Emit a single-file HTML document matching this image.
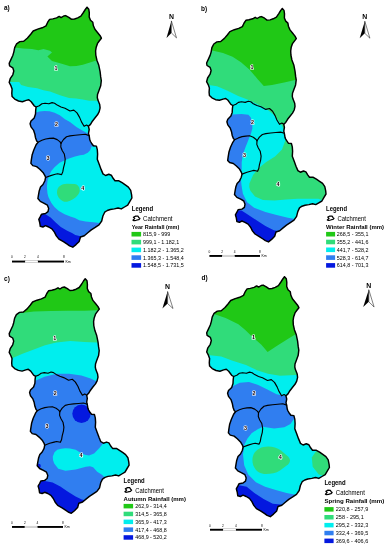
<!DOCTYPE html>
<html lang="en"><head><meta charset="utf-8"><title>Seasonal rainfall maps</title>
<style>
html,body{margin:0;padding:0;background:#fff;}
body{width:391px;height:550px;overflow:hidden;}
svg{display:block;font-family:"Liberation Sans",sans-serif;}
.b{font-weight:bold}
</style></head><body>
<svg width="391" height="550" viewBox="0 0 391 550">
<rect width="391" height="550" fill="#fff"/>

<g id="panel-a">
<clipPath id="clip-a"><path d="M87.0 7.2 L88.8 9.3 L89.3 12.8 L89.2 17.1 L90.5 20.3 L92.8 22.3 L93.3 25.5 L94.9 29.3 L97.5 32.5 L100.1 35.7 L101.4 38.2 L99.4 40.8 L97.5 43.4 L96.2 47.2 L95.6 51.0 L95.8 55.1 L96.9 60.2 L98.8 65.3 L100.1 71.7 L100.7 76.9 L101.3 80.7 L100.7 85.8 L98.8 90.9 L97.5 94.5 L97.3 97.5 L97.9 100.1 L99.7 104.6 L100.1 107.8 L99.2 111.6 L97.5 114.8 L94.9 118.0 L92.4 121.2 L90.5 124.4 L88.5 126.3 L89.2 129.5 L88.5 133.4 L89.2 135.9 L89.8 139.8 L90.5 141.5 L91.5 143.2 L93.4 145.8 L96.4 146.1 L97.3 149.6 L97.6 154.1 L97.3 159.2 L99.2 164.3 L101.1 169.4 L103.0 173.9 L105.6 175.5 L108.8 174.3 L111.3 175.2 L113.1 178.3 L115.0 180.8 L118.9 180.8 L122.1 182.7 L125.3 184.9 L128.4 187.1 L130.7 190.3 L131.6 194.8 L131.9 198.0 L129.6 201.9 L127.7 205.1 L124.5 207.0 L121.3 208.9 L118.1 208.0 L114.3 208.9 L110.3 209.5 L107.3 210.5 L104.7 212.2 L102.9 216.0 L101.7 221.0 L99.0 224.8 L95.2 227.4 L91.3 229.9 L88.1 232.5 L84.3 235.7 L80.5 237.0 L79.2 241.4 L76.0 244.6 L72.8 247.2 L69.6 245.9 L67.2 244.2 L63.4 241.7 L58.9 239.1 L56.3 235.9 L54.4 232.1 L51.9 228.9 L48.7 227.0 L45.5 225.7 L42.9 227.0 L40.3 226.3 L39.7 222.5 L38.8 219.3 L40.3 216.7 L41.6 214.2 L45.5 213.5 L48.0 211.6 L48.7 208.4 L47.4 205.2 L44.2 203.3 L40.3 201.4 L37.9 198.5 L38.5 194.8 L39.2 190.9 L40.5 187.1 L43.0 184.5 L44.9 180.7 L45.6 177.5 L44.9 175.6 L43.0 172.4 L39.8 169.2 L36.6 166.6 L32.8 165.6 L30.9 163.4 L31.3 160.2 L32.1 155.1 L33.8 150.0 L36.1 144.8 L38.0 142.2 L36.7 140.9 L35.5 137.7 L34.8 133.9 L33.5 130.1 L31.0 126.9 L30.1 123.7 L31.0 121.1 L34.2 117.9 L35.5 114.1 L35.7 110.2 L36.1 107.0 L34.2 105.8 L32.3 103.2 L31.2 101.7 L28.8 99.8 L26.2 100.4 L22.4 101.7 L18.5 101.0 L14.7 99.1 L12.1 96.6 L11.8 93.4 L12.1 88.9 L10.9 85.7 L9.2 82.5 L10.2 78.7 L12.8 74.8 L13.8 71.0 L12.8 67.8 L9.6 65.9 L9.2 63.3 L10.9 59.6 L12.8 55.5 L13.8 52.1 L14.7 47.6 L16.6 43.8 L19.8 41.6 L23.7 41.2 L27.5 38.0 L30.7 34.2 L33.2 31.0 L37.7 29.1 L42.2 27.8 L46.0 25.9 L47.7 22.2 L49.6 19.4 L52.8 18.9 L56.6 17.9 L59.2 16.4 L61.1 17.6 L63.7 16.0 L65.6 15.6 L68.8 17.3 L71.3 19.2 L74.5 19.0 L77.7 17.9 L80.9 16.1 L83.4 12.5 L85.3 9.5Z"/></clipPath>
<g clip-path="url(#clip-a)">
<path d="M87.0 7.2 L88.8 9.3 L89.3 12.8 L89.2 17.1 L90.5 20.3 L92.8 22.3 L93.3 25.5 L94.9 29.3 L97.5 32.5 L100.1 35.7 L101.4 38.2 L99.4 40.8 L97.5 43.4 L96.2 47.2 L95.6 51.0 L95.8 55.1 L96.9 60.2 L98.8 65.3 L100.1 71.7 L100.7 76.9 L101.3 80.7 L100.7 85.8 L98.8 90.9 L97.5 94.5 L97.3 97.5 L97.9 100.1 L99.7 104.6 L100.1 107.8 L99.2 111.6 L97.5 114.8 L94.9 118.0 L92.4 121.2 L90.5 124.4 L88.5 126.3 L89.2 129.5 L88.5 133.4 L89.2 135.9 L89.8 139.8 L90.5 141.5 L91.5 143.2 L93.4 145.8 L96.4 146.1 L97.3 149.6 L97.6 154.1 L97.3 159.2 L99.2 164.3 L101.1 169.4 L103.0 173.9 L105.6 175.5 L108.8 174.3 L111.3 175.2 L113.1 178.3 L115.0 180.8 L118.9 180.8 L122.1 182.7 L125.3 184.9 L128.4 187.1 L130.7 190.3 L131.6 194.8 L131.9 198.0 L129.6 201.9 L127.7 205.1 L124.5 207.0 L121.3 208.9 L118.1 208.0 L114.3 208.9 L110.3 209.5 L107.3 210.5 L104.7 212.2 L102.9 216.0 L101.7 221.0 L99.0 224.8 L95.2 227.4 L91.3 229.9 L88.1 232.5 L84.3 235.7 L80.5 237.0 L79.2 241.4 L76.0 244.6 L72.8 247.2 L69.6 245.9 L67.2 244.2 L63.4 241.7 L58.9 239.1 L56.3 235.9 L54.4 232.1 L51.9 228.9 L48.7 227.0 L45.5 225.7 L42.9 227.0 L40.3 226.3 L39.7 222.5 L38.8 219.3 L40.3 216.7 L41.6 214.2 L45.5 213.5 L48.0 211.6 L48.7 208.4 L47.4 205.2 L44.2 203.3 L40.3 201.4 L37.9 198.5 L38.5 194.8 L39.2 190.9 L40.5 187.1 L43.0 184.5 L44.9 180.7 L45.6 177.5 L44.9 175.6 L43.0 172.4 L39.8 169.2 L36.6 166.6 L32.8 165.6 L30.9 163.4 L31.3 160.2 L32.1 155.1 L33.8 150.0 L36.1 144.8 L38.0 142.2 L36.7 140.9 L35.5 137.7 L34.8 133.9 L33.5 130.1 L31.0 126.9 L30.1 123.7 L31.0 121.1 L34.2 117.9 L35.5 114.1 L35.7 110.2 L36.1 107.0 L34.2 105.8 L32.3 103.2 L31.2 101.7 L28.8 99.8 L26.2 100.4 L22.4 101.7 L18.5 101.0 L14.7 99.1 L12.1 96.6 L11.8 93.4 L12.1 88.9 L10.9 85.7 L9.2 82.5 L10.2 78.7 L12.8 74.8 L13.8 71.0 L12.8 67.8 L9.6 65.9 L9.2 63.3 L10.9 59.6 L12.8 55.5 L13.8 52.1 L14.7 47.6 L16.6 43.8 L19.8 41.6 L23.7 41.2 L27.5 38.0 L30.7 34.2 L33.2 31.0 L37.7 29.1 L42.2 27.8 L46.0 25.9 L47.7 22.2 L49.6 19.4 L52.8 18.9 L56.6 17.9 L59.2 16.4 L61.1 17.6 L63.7 16.0 L65.6 15.6 L68.8 17.3 L71.3 19.2 L74.5 19.0 L77.7 17.9 L80.9 16.1 L83.4 12.5 L85.3 9.5Z" fill="#00EEEE"/>
<path d="M0.0 81.9 L10.2 81.9 L19.2 82.1 L21.1 85.1 L28.1 87.0 L37.1 88.2 L43.5 90.2 L50.0 91.6 L60.0 95.3 L69.0 98.0 L76.0 98.6 L82.8 99.5 L89.2 100.8 L97.5 100.8 L140.0 100.8 L140.0 0.0 L0.0 0.0Z" fill="#30DC7A"/>
<path d="M0.0 47.6 L14.7 47.6 L23.0 48.5 L32.0 48.9 L38.4 50.2 L43.5 48.9 L50.0 50.8 L52.0 52.5 L47.4 56.4 L52.0 60.9 L60.9 63.5 L70.0 66.2 L76.4 66.0 L82.8 64.7 L89.2 62.8 L96.9 60.2 L140.0 60.0 L140.0 0.0 L0.0 0.0Z" fill="#20C816"/>
<path d="M20.0 112.8 L35.7 112.8 L39.3 111.5 L44.4 110.9 L49.5 111.3 L54.6 112.8 L59.8 115.3 L65.0 119.2 L70.0 121.9 L76.4 127.0 L82.8 130.8 L87.9 133.4 L89.2 135.0 L95.0 135.0 L95.0 146.4 L91.5 146.4 L90.2 150.2 L87.7 152.8 L83.8 154.7 L80.0 155.3 L75.0 156.5 L69.0 158.5 L64.8 160.2 L59.6 162.8 L54.5 167.3 L51.3 171.1 L49.2 175.6 L47.5 180.7 L46.9 187.1 L47.5 193.5 L48.4 197.0 L49.3 198.8 L51.2 202.7 L54.4 207.1 L58.9 211.0 L64.6 214.2 L71.0 216.7 L75.0 218.0 L79.2 220.3 L85.6 221.6 L93.2 222.3 L99.6 222.9 L110.0 223.0 L110.0 260.0 L20.0 260.0Z" fill="#307EF0"/>
<path d="M30.0 214.2 L45.5 214.2 L50.6 217.4 L55.7 222.5 L60.8 227.0 L67.2 230.8 L72.0 233.0 L75.3 235.0 L80.5 236.3 L86.0 236.5 L90.0 260.0 L30.0 260.0Z" fill="#0418DF"/>
<path d="M57 192.3 C57 186.6 61.5 183.7 67 183.7 L74.5 183.9 C78.2 184.2 80 187.8 79.7 191 C79.4 194.6 75.5 197.8 71.5 200 C68.5 201.8 65.2 202.4 63 201.2 C59.8 199.6 57 196.6 57 192.3Z" fill="#30DC7A"/>
</g>
<g fill="none" stroke="#000" stroke-width="1.15" stroke-linejoin="round" stroke-linecap="round">
<path d="M36.1 107.0 L39.3 105.8 L41.9 103.8 L45.1 103.2 L48.9 103.8 L52.1 102.6 L54.6 103.2 L57.2 105.1 L61.0 107.0 L65.0 108.3 L70.0 111.0 L73.8 110.1 L77.0 112.9 L79.6 117.4 L81.5 121.9 L84.1 126.3 L86.6 125.0 L88.5 126.3"/>
<path d="M89.2 135.6 L85.3 134.3 L80.2 134.8 L75.1 135.3 L70.0 135.9 L66.5 136.8 L63.5 139.5 L61.0 143.2"/>
<path d="M38.0 142.2 L41.9 140.3 L45.7 139.0 L49.5 138.4 L53.4 138.1 L57.2 139.6 L59.8 141.6 L61.0 143.2"/>
<path d="M61.0 143.2 L60.8 147.0 L62.2 150.5 L64.3 154.0 L65.2 159.0 L64.8 162.8 L63.5 167.9 L62.8 171.7 L61.6 174.6 L57.7 173.7 L55.2 174.3 L50.7 175.6 L45.6 177.5"/>
</g>
<path d="M87.0 7.2 L88.8 9.3 L89.3 12.8 L89.2 17.1 L90.5 20.3 L92.8 22.3 L93.3 25.5 L94.9 29.3 L97.5 32.5 L100.1 35.7 L101.4 38.2 L99.4 40.8 L97.5 43.4 L96.2 47.2 L95.6 51.0 L95.8 55.1 L96.9 60.2 L98.8 65.3 L100.1 71.7 L100.7 76.9 L101.3 80.7 L100.7 85.8 L98.8 90.9 L97.5 94.5 L97.3 97.5 L97.9 100.1 L99.7 104.6 L100.1 107.8 L99.2 111.6 L97.5 114.8 L94.9 118.0 L92.4 121.2 L90.5 124.4 L88.5 126.3 L89.2 129.5 L88.5 133.4 L89.2 135.9 L89.8 139.8 L90.5 141.5 L91.5 143.2 L93.4 145.8 L96.4 146.1 L97.3 149.6 L97.6 154.1 L97.3 159.2 L99.2 164.3 L101.1 169.4 L103.0 173.9 L105.6 175.5 L108.8 174.3 L111.3 175.2 L113.1 178.3 L115.0 180.8 L118.9 180.8 L122.1 182.7 L125.3 184.9 L128.4 187.1 L130.7 190.3 L131.6 194.8 L131.9 198.0 L129.6 201.9 L127.7 205.1 L124.5 207.0 L121.3 208.9 L118.1 208.0 L114.3 208.9 L110.3 209.5 L107.3 210.5 L104.7 212.2 L102.9 216.0 L101.7 221.0 L99.0 224.8 L95.2 227.4 L91.3 229.9 L88.1 232.5 L84.3 235.7 L80.5 237.0 L79.2 241.4 L76.0 244.6 L72.8 247.2 L69.6 245.9 L67.2 244.2 L63.4 241.7 L58.9 239.1 L56.3 235.9 L54.4 232.1 L51.9 228.9 L48.7 227.0 L45.5 225.7 L42.9 227.0 L40.3 226.3 L39.7 222.5 L38.8 219.3 L40.3 216.7 L41.6 214.2 L45.5 213.5 L48.0 211.6 L48.7 208.4 L47.4 205.2 L44.2 203.3 L40.3 201.4 L37.9 198.5 L38.5 194.8 L39.2 190.9 L40.5 187.1 L43.0 184.5 L44.9 180.7 L45.6 177.5 L44.9 175.6 L43.0 172.4 L39.8 169.2 L36.6 166.6 L32.8 165.6 L30.9 163.4 L31.3 160.2 L32.1 155.1 L33.8 150.0 L36.1 144.8 L38.0 142.2 L36.7 140.9 L35.5 137.7 L34.8 133.9 L33.5 130.1 L31.0 126.9 L30.1 123.7 L31.0 121.1 L34.2 117.9 L35.5 114.1 L35.7 110.2 L36.1 107.0 L34.2 105.8 L32.3 103.2 L31.2 101.7 L28.8 99.8 L26.2 100.4 L22.4 101.7 L18.5 101.0 L14.7 99.1 L12.1 96.6 L11.8 93.4 L12.1 88.9 L10.9 85.7 L9.2 82.5 L10.2 78.7 L12.8 74.8 L13.8 71.0 L12.8 67.8 L9.6 65.9 L9.2 63.3 L10.9 59.6 L12.8 55.5 L13.8 52.1 L14.7 47.6 L16.6 43.8 L19.8 41.6 L23.7 41.2 L27.5 38.0 L30.7 34.2 L33.2 31.0 L37.7 29.1 L42.2 27.8 L46.0 25.9 L47.7 22.2 L49.6 19.4 L52.8 18.9 L56.6 17.9 L59.2 16.4 L61.1 17.6 L63.7 16.0 L65.6 15.6 L68.8 17.3 L71.3 19.2 L74.5 19.0 L77.7 17.9 L80.9 16.1 L83.4 12.5 L85.3 9.5Z" fill="none" stroke="#000" stroke-width="1.45" stroke-linejoin="round"/>
<text x="55.9" y="69.7" font-size="5.4" text-anchor="middle" class="b" stroke="#fff" stroke-width="1.2" paint-order="stroke" fill="#100008">1</text>
<text x="56.4" y="125.8" font-size="5.4" text-anchor="middle" class="b" stroke="#fff" stroke-width="1.2" paint-order="stroke" fill="#100008">2</text>
<text x="48.0" y="160.2" font-size="5.4" text-anchor="middle" class="b" stroke="#fff" stroke-width="1.2" paint-order="stroke" fill="#100008">3</text>
<text x="82.7" y="189.7" font-size="5.4" text-anchor="middle" class="b" stroke="#fff" stroke-width="1.2" paint-order="stroke" fill="#100008">4</text>
<text x="3.9" y="10.3" font-size="6.5" class="b">a)</text>
<text x="171.5" y="18.6" font-size="6.9" class="b" text-anchor="middle">N</text>
<path d="M171.4 20.9 L166.5 37.9 L171.4 32.9 Z" fill="#000"/>
<path d="M171.4 20.9 L176.5 37.9 L171.4 32.9 Z" fill="#fff" stroke="#000" stroke-width="0.5" stroke-linejoin="miter"/>
<rect x="12.0" y="260.6" width="13.0" height="1.9" fill="#000"/>
<rect x="25.0" y="260.7" width="13.0" height="1.7" fill="#fff" stroke="#333" stroke-width="0.22"/>
<rect x="38.0" y="260.6" width="26.0" height="1.9" fill="#000"/>
<text x="12.0" y="258.4" font-size="3.2" text-anchor="middle" fill="#000">0</text>
<text x="25.0" y="258.4" font-size="3.2" text-anchor="middle" fill="#000">2</text>
<text x="38.0" y="258.4" font-size="3.2" text-anchor="middle" fill="#000">4</text>
<text x="64.0" y="258.4" font-size="3.2" text-anchor="middle" fill="#000">8</text>
<text x="65.4" y="262.6" font-size="3.5" fill="#000">Km</text>
<text x="131.7" y="210.9" font-size="6.4" class="b" textLength="21.5" lengthAdjust="spacingAndGlyphs">Legend</text>
<path d="M132.94 220.14 L134.70 218.52 L133.42 217.24 L135.66 216.08 L138.06 216.20 L138.70 217.47 L139.90 218.52 L138.70 219.68 L136.14 220.26 L133.90 220.60Z" fill="#fff" stroke="#000" stroke-width="1.25" stroke-linejoin="round"/>
<text x="143.0" y="220.9" font-size="6.4" textLength="29.5" lengthAdjust="spacingAndGlyphs" fill="#000">Catchment</text>
<text x="131.7" y="228.5" font-size="6.0" class="b" textLength="47.6" lengthAdjust="spacingAndGlyphs">Year Rainfall (mm)</text>
<rect x="131.5" y="231.9" width="9.6" height="4.6" fill="#20C816"/>
<text x="142.9" y="236.2" font-size="5.7" textLength="27.3" lengthAdjust="spacingAndGlyphs" fill="#000">815,9 - 999</text>
<rect x="131.5" y="239.8" width="9.6" height="4.6" fill="#30DC7A"/>
<text x="142.9" y="244.0" font-size="5.7" textLength="36.3" lengthAdjust="spacingAndGlyphs" fill="#000">999,1 - 1.182,1</text>
<rect x="131.5" y="247.6" width="9.6" height="4.6" fill="#00EEEE"/>
<text x="142.9" y="251.8" font-size="5.7" textLength="40.8" lengthAdjust="spacingAndGlyphs" fill="#000">1.182,2 - 1.365,2</text>
<rect x="131.5" y="255.3" width="9.6" height="4.6" fill="#307EF0"/>
<text x="142.9" y="259.5" font-size="5.7" textLength="40.8" lengthAdjust="spacingAndGlyphs" fill="#000">1.365,3 - 1.548,4</text>
<rect x="131.5" y="263.1" width="9.6" height="4.6" fill="#0418DF"/>
<text x="142.9" y="267.3" font-size="5.7" textLength="40.8" lengthAdjust="spacingAndGlyphs" fill="#000">1.548,5 - 1.731,5</text>
</g>
<g id="panel-b">
<clipPath id="clip-b"><path d="M282.3 8.4 L284.0 10.4 L284.5 13.8 L284.4 18.0 L285.7 21.1 L287.9 23.1 L288.4 26.2 L290.0 29.9 L292.5 33.0 L295.0 36.1 L296.3 38.6 L294.4 41.1 L292.5 43.6 L291.2 47.3 L290.7 51.0 L290.9 55.0 L291.9 60.0 L293.8 64.9 L295.0 71.2 L295.6 76.2 L296.2 79.9 L295.6 84.9 L293.8 89.8 L292.5 93.3 L292.3 96.3 L292.9 98.8 L294.7 103.2 L295.0 106.3 L294.2 110.0 L292.5 113.1 L290.0 116.2 L287.6 119.3 L285.7 122.4 L283.8 124.3 L284.4 127.4 L283.8 131.2 L284.4 133.6 L285.0 137.4 L285.7 139.1 L286.7 140.7 L288.5 143.3 L291.4 143.5 L292.3 146.9 L292.6 151.3 L292.3 156.3 L294.2 161.3 L296.0 166.2 L297.9 170.6 L300.4 172.2 L303.5 171.0 L305.9 171.9 L307.7 174.9 L309.5 177.3 L313.3 177.3 L316.4 179.2 L319.6 181.3 L322.6 183.4 L324.8 186.6 L325.7 190.9 L326.0 194.0 L323.7 197.8 L321.9 201.0 L318.8 202.8 L315.7 204.6 L312.6 203.8 L308.9 204.6 L305.0 205.2 L302.0 206.2 L299.5 207.9 L297.8 211.6 L296.6 216.4 L294.0 220.1 L290.3 222.6 L286.5 225.1 L283.4 227.6 L279.7 230.7 L276.0 232.0 L274.7 236.3 L271.6 239.4 L268.5 241.9 L265.4 240.6 L263.0 239.0 L259.3 236.6 L255.0 234.0 L252.4 230.9 L250.6 227.2 L248.1 224.1 L245.0 222.3 L241.9 221.0 L239.4 222.3 L236.9 221.6 L236.3 217.9 L235.4 214.8 L236.9 212.2 L238.1 209.8 L241.9 209.1 L244.4 207.3 L245.0 204.2 L243.8 201.0 L240.7 199.2 L236.9 197.4 L234.5 194.5 L235.1 190.9 L235.8 187.1 L237.1 183.4 L239.5 180.9 L241.3 177.2 L242.0 174.1 L241.3 172.2 L239.5 169.1 L236.4 166.0 L233.3 163.5 L229.6 162.5 L227.7 160.4 L228.1 157.3 L228.9 152.3 L230.5 147.3 L232.8 142.3 L234.6 139.7 L233.4 138.5 L232.2 135.4 L231.5 131.7 L230.2 128.0 L227.8 124.9 L226.9 121.7 L227.8 119.2 L230.9 116.1 L232.2 112.4 L232.4 108.6 L232.8 105.5 L230.9 104.3 L229.1 101.8 L228.0 100.3 L225.7 98.5 L223.1 99.1 L219.4 100.3 L215.6 99.7 L211.9 97.8 L209.4 95.4 L209.1 92.3 L209.4 87.9 L208.3 84.8 L206.6 81.7 L207.6 78.0 L210.1 74.2 L211.1 70.5 L210.1 67.4 L207.0 65.5 L206.6 63.0 L208.3 59.4 L210.1 55.4 L211.1 52.1 L211.9 47.7 L213.8 44.0 L216.9 41.9 L220.7 41.5 L224.4 38.4 L227.5 34.7 L229.9 31.6 L234.3 29.7 L238.7 28.4 L242.4 26.6 L244.1 23.0 L245.9 20.3 L249.0 19.8 L252.7 18.8 L255.2 17.3 L257.1 18.5 L259.6 17.0 L261.5 16.6 L264.6 18.2 L267.0 20.1 L270.1 19.9 L273.2 18.8 L276.4 17.1 L278.8 13.6 L280.6 10.6Z"/></clipPath>
<g clip-path="url(#clip-b)">
<path d="M282.3 8.4 L284.0 10.4 L284.5 13.8 L284.4 18.0 L285.7 21.1 L287.9 23.1 L288.4 26.2 L290.0 29.9 L292.5 33.0 L295.0 36.1 L296.3 38.6 L294.4 41.1 L292.5 43.6 L291.2 47.3 L290.7 51.0 L290.9 55.0 L291.9 60.0 L293.8 64.9 L295.0 71.2 L295.6 76.2 L296.2 79.9 L295.6 84.9 L293.8 89.8 L292.5 93.3 L292.3 96.3 L292.9 98.8 L294.7 103.2 L295.0 106.3 L294.2 110.0 L292.5 113.1 L290.0 116.2 L287.6 119.3 L285.7 122.4 L283.8 124.3 L284.4 127.4 L283.8 131.2 L284.4 133.6 L285.0 137.4 L285.7 139.1 L286.7 140.7 L288.5 143.3 L291.4 143.5 L292.3 146.9 L292.6 151.3 L292.3 156.3 L294.2 161.3 L296.0 166.2 L297.9 170.6 L300.4 172.2 L303.5 171.0 L305.9 171.9 L307.7 174.9 L309.5 177.3 L313.3 177.3 L316.4 179.2 L319.6 181.3 L322.6 183.4 L324.8 186.6 L325.7 190.9 L326.0 194.0 L323.7 197.8 L321.9 201.0 L318.8 202.8 L315.7 204.6 L312.6 203.8 L308.9 204.6 L305.0 205.2 L302.0 206.2 L299.5 207.9 L297.8 211.6 L296.6 216.4 L294.0 220.1 L290.3 222.6 L286.5 225.1 L283.4 227.6 L279.7 230.7 L276.0 232.0 L274.7 236.3 L271.6 239.4 L268.5 241.9 L265.4 240.6 L263.0 239.0 L259.3 236.6 L255.0 234.0 L252.4 230.9 L250.6 227.2 L248.1 224.1 L245.0 222.3 L241.9 221.0 L239.4 222.3 L236.9 221.6 L236.3 217.9 L235.4 214.8 L236.9 212.2 L238.1 209.8 L241.9 209.1 L244.4 207.3 L245.0 204.2 L243.8 201.0 L240.7 199.2 L236.9 197.4 L234.5 194.5 L235.1 190.9 L235.8 187.1 L237.1 183.4 L239.5 180.9 L241.3 177.2 L242.0 174.1 L241.3 172.2 L239.5 169.1 L236.4 166.0 L233.3 163.5 L229.6 162.5 L227.7 160.4 L228.1 157.3 L228.9 152.3 L230.5 147.3 L232.8 142.3 L234.6 139.7 L233.4 138.5 L232.2 135.4 L231.5 131.7 L230.2 128.0 L227.8 124.9 L226.9 121.7 L227.8 119.2 L230.9 116.1 L232.2 112.4 L232.4 108.6 L232.8 105.5 L230.9 104.3 L229.1 101.8 L228.0 100.3 L225.7 98.5 L223.1 99.1 L219.4 100.3 L215.6 99.7 L211.9 97.8 L209.4 95.4 L209.1 92.3 L209.4 87.9 L208.3 84.8 L206.6 81.7 L207.6 78.0 L210.1 74.2 L211.1 70.5 L210.1 67.4 L207.0 65.5 L206.6 63.0 L208.3 59.4 L210.1 55.4 L211.1 52.1 L211.9 47.7 L213.8 44.0 L216.9 41.9 L220.7 41.5 L224.4 38.4 L227.5 34.7 L229.9 31.6 L234.3 29.7 L238.7 28.4 L242.4 26.6 L244.1 23.0 L245.9 20.3 L249.0 19.8 L252.7 18.8 L255.2 17.3 L257.1 18.5 L259.6 17.0 L261.5 16.6 L264.6 18.2 L267.0 20.1 L270.1 19.9 L273.2 18.8 L276.4 17.1 L278.8 13.6 L280.6 10.6Z" fill="#00EEEE"/>
<path d="M196.0 84.9 L208.7 84.9 L217.0 86.3 L227.0 90.5 L238.2 96.1 L249.4 100.3 L257.9 104.5 L266.3 108.8 L273.4 114.4 L279.0 121.4 L281.8 125.6 L284.0 130.0 L300.0 130.0 L300.0 0.0 L196.0 0.0Z" fill="#30DC7A"/>
<path d="M196.0 50.0 L212.3 50.4 L223.0 53.0 L232.6 56.7 L241.0 62.3 L249.4 69.4 L257.7 79.2 L263.8 86.0 L272.0 84.9 L285.3 82.3 L295.0 80.0 L310.0 79.0 L310.0 0.0 L196.0 0.0Z" fill="#20C816"/>
<path d="M215.0 114.6 L232.5 114.4 L241.5 114.0 L248.4 114.7 L250.8 117.5 L252.2 122.9 L252.4 128.3 L251.0 133.6 L249.5 137.0 L247.4 142.6 L245.1 148.3 L242.8 155.2 L241.7 162.2 L241.7 169.1 L240.5 175.0 L241.5 185.3 L242.9 193.8 L247.1 202.2 L254.1 207.8 L265.4 212.0 L276.6 214.9 L287.9 217.7 L294.9 219.0 L300.0 220.0 L300.0 260.0 L215.0 260.0Z" fill="#307EF0"/>
<path d="M230.0 210.6 L241.5 210.6 L248.5 214.9 L256.9 220.5 L265.4 226.1 L273.8 230.3 L280.9 231.7 L290.0 232.0 L290.0 260.0 L230.0 260.0Z" fill="#0418DF"/>
<path d="M290.0 140.3 L285.4 140.3 L282.0 149.5 L275.0 156.4 L265.9 162.2 L258.9 167.9 L253.2 174.8 L249.4 183.5 L249.2 187.0 L250.4 190.7 L255.0 196.5 L263.0 199.9 L274.5 200.6 L286.0 199.5 L297.6 198.8 L309.0 198.8 L318.3 198.8 L322.0 200.0 L335.0 200.0 L335.0 140.0Z" fill="#30DC7A"/>
</g>
<g fill="none" stroke="#000" stroke-width="1.15" stroke-linejoin="round" stroke-linecap="round">
<path d="M232.8 105.5 L235.9 104.3 L238.4 102.4 L241.5 101.8 L245.2 102.4 L248.3 101.2 L250.8 101.8 L253.3 103.7 L257.0 105.5 L260.9 106.8 L265.8 109.4 L269.5 108.5 L272.6 111.2 L275.1 115.6 L276.9 120.0 L279.5 124.3 L281.9 123.0 L283.8 124.3"/>
<path d="M284.4 133.3 L280.6 132.1 L275.7 132.5 L270.7 133.0 L265.8 133.6 L262.4 134.5 L259.4 137.1 L257.0 140.7"/>
<path d="M234.6 139.7 L238.4 137.9 L242.1 136.6 L245.8 136.1 L249.6 135.8 L253.3 137.2 L255.8 139.2 L257.0 140.7"/>
<path d="M257.0 140.7 L256.8 144.4 L258.2 147.8 L260.2 151.2 L261.1 156.1 L260.7 159.8 L259.4 164.8 L258.8 168.5 L257.6 171.3 L253.8 170.4 L251.4 171.0 L247.0 172.2 L242.0 174.1"/>
</g>
<path d="M282.3 8.4 L284.0 10.4 L284.5 13.8 L284.4 18.0 L285.7 21.1 L287.9 23.1 L288.4 26.2 L290.0 29.9 L292.5 33.0 L295.0 36.1 L296.3 38.6 L294.4 41.1 L292.5 43.6 L291.2 47.3 L290.7 51.0 L290.9 55.0 L291.9 60.0 L293.8 64.9 L295.0 71.2 L295.6 76.2 L296.2 79.9 L295.6 84.9 L293.8 89.8 L292.5 93.3 L292.3 96.3 L292.9 98.8 L294.7 103.2 L295.0 106.3 L294.2 110.0 L292.5 113.1 L290.0 116.2 L287.6 119.3 L285.7 122.4 L283.8 124.3 L284.4 127.4 L283.8 131.2 L284.4 133.6 L285.0 137.4 L285.7 139.1 L286.7 140.7 L288.5 143.3 L291.4 143.5 L292.3 146.9 L292.6 151.3 L292.3 156.3 L294.2 161.3 L296.0 166.2 L297.9 170.6 L300.4 172.2 L303.5 171.0 L305.9 171.9 L307.7 174.9 L309.5 177.3 L313.3 177.3 L316.4 179.2 L319.6 181.3 L322.6 183.4 L324.8 186.6 L325.7 190.9 L326.0 194.0 L323.7 197.8 L321.9 201.0 L318.8 202.8 L315.7 204.6 L312.6 203.8 L308.9 204.6 L305.0 205.2 L302.0 206.2 L299.5 207.9 L297.8 211.6 L296.6 216.4 L294.0 220.1 L290.3 222.6 L286.5 225.1 L283.4 227.6 L279.7 230.7 L276.0 232.0 L274.7 236.3 L271.6 239.4 L268.5 241.9 L265.4 240.6 L263.0 239.0 L259.3 236.6 L255.0 234.0 L252.4 230.9 L250.6 227.2 L248.1 224.1 L245.0 222.3 L241.9 221.0 L239.4 222.3 L236.9 221.6 L236.3 217.9 L235.4 214.8 L236.9 212.2 L238.1 209.8 L241.9 209.1 L244.4 207.3 L245.0 204.2 L243.8 201.0 L240.7 199.2 L236.9 197.4 L234.5 194.5 L235.1 190.9 L235.8 187.1 L237.1 183.4 L239.5 180.9 L241.3 177.2 L242.0 174.1 L241.3 172.2 L239.5 169.1 L236.4 166.0 L233.3 163.5 L229.6 162.5 L227.7 160.4 L228.1 157.3 L228.9 152.3 L230.5 147.3 L232.8 142.3 L234.6 139.7 L233.4 138.5 L232.2 135.4 L231.5 131.7 L230.2 128.0 L227.8 124.9 L226.9 121.7 L227.8 119.2 L230.9 116.1 L232.2 112.4 L232.4 108.6 L232.8 105.5 L230.9 104.3 L229.1 101.8 L228.0 100.3 L225.7 98.5 L223.1 99.1 L219.4 100.3 L215.6 99.7 L211.9 97.8 L209.4 95.4 L209.1 92.3 L209.4 87.9 L208.3 84.8 L206.6 81.7 L207.6 78.0 L210.1 74.2 L211.1 70.5 L210.1 67.4 L207.0 65.5 L206.6 63.0 L208.3 59.4 L210.1 55.4 L211.1 52.1 L211.9 47.7 L213.8 44.0 L216.9 41.9 L220.7 41.5 L224.4 38.4 L227.5 34.7 L229.9 31.6 L234.3 29.7 L238.7 28.4 L242.4 26.6 L244.1 23.0 L245.9 20.3 L249.0 19.8 L252.7 18.8 L255.2 17.3 L257.1 18.5 L259.6 17.0 L261.5 16.6 L264.6 18.2 L267.0 20.1 L270.1 19.9 L273.2 18.8 L276.4 17.1 L278.8 13.6 L280.6 10.6Z" fill="none" stroke="#000" stroke-width="1.45" stroke-linejoin="round"/>
<text x="252.0" y="69.3" font-size="5.4" text-anchor="middle" class="b" stroke="#fff" stroke-width="1.2" paint-order="stroke" fill="#100008">1</text>
<text x="252.5" y="123.9" font-size="5.4" text-anchor="middle" class="b" stroke="#fff" stroke-width="1.2" paint-order="stroke" fill="#100008">2</text>
<text x="244.4" y="157.3" font-size="5.4" text-anchor="middle" class="b" stroke="#fff" stroke-width="1.2" paint-order="stroke" fill="#100008">3</text>
<text x="278.1" y="186.0" font-size="5.4" text-anchor="middle" class="b" stroke="#fff" stroke-width="1.2" paint-order="stroke" fill="#100008">4</text>
<text x="201.0" y="10.8" font-size="6.5" class="b">b)</text>
<text x="364.8" y="19.2" font-size="6.9" class="b" text-anchor="middle">N</text>
<path d="M364.8 21.2 L359.7 38.2 L364.8 33.3 Z" fill="#000"/>
<path d="M364.8 21.2 L369.9 38.2 L364.8 33.3 Z" fill="#fff" stroke="#000" stroke-width="0.5" stroke-linejoin="miter"/>
<rect x="209.4" y="255.0" width="12.6" height="1.9" fill="#000"/>
<rect x="222.1" y="255.1" width="12.6" height="1.7" fill="#fff" stroke="#333" stroke-width="0.22"/>
<rect x="234.7" y="255.0" width="25.3" height="1.9" fill="#000"/>
<text x="209.4" y="252.8" font-size="3.2" text-anchor="middle" fill="#000">0</text>
<text x="222.1" y="252.8" font-size="3.2" text-anchor="middle" fill="#000">2</text>
<text x="234.7" y="252.8" font-size="3.2" text-anchor="middle" fill="#000">4</text>
<text x="260.0" y="252.8" font-size="3.2" text-anchor="middle" fill="#000">8</text>
<text x="261.4" y="257.0" font-size="3.5" fill="#000">Km</text>
<text x="326.1" y="210.7" font-size="6.4" class="b" textLength="21.0" lengthAdjust="spacingAndGlyphs">Legend</text>
<path d="M327.32 219.90 L329.01 218.36 L327.78 217.15 L329.93 216.05 L332.24 216.16 L332.86 217.37 L334.01 218.36 L332.86 219.46 L330.40 220.01 L328.24 220.34Z" fill="#fff" stroke="#000" stroke-width="1.25" stroke-linejoin="round"/>
<text x="337.4" y="220.9" font-size="6.4" textLength="28.5" lengthAdjust="spacingAndGlyphs" fill="#000">Catchment</text>
<text x="326.1" y="228.6" font-size="6.0" class="b" textLength="57.9" lengthAdjust="spacingAndGlyphs">Winter Rainfall (mm)</text>
<rect x="326.1" y="231.9" width="9.0" height="4.6" fill="#20C816"/>
<text x="336.8" y="236.1" font-size="5.7" textLength="31.6" lengthAdjust="spacingAndGlyphs" fill="#000">268,5 - 355,1</text>
<rect x="326.1" y="239.7" width="9.0" height="4.6" fill="#30DC7A"/>
<text x="336.8" y="243.9" font-size="5.7" textLength="31.6" lengthAdjust="spacingAndGlyphs" fill="#000">355,2 - 441,6</text>
<rect x="326.1" y="247.5" width="9.0" height="4.6" fill="#00EEEE"/>
<text x="336.8" y="251.7" font-size="5.7" textLength="31.6" lengthAdjust="spacingAndGlyphs" fill="#000">441,7 - 528,2</text>
<rect x="326.1" y="255.3" width="9.0" height="4.6" fill="#307EF0"/>
<text x="336.8" y="259.5" font-size="5.7" textLength="31.6" lengthAdjust="spacingAndGlyphs" fill="#000">528,3 - 614,7</text>
<rect x="326.1" y="263.1" width="9.0" height="4.6" fill="#0418DF"/>
<text x="336.8" y="267.3" font-size="5.7" textLength="31.6" lengthAdjust="spacingAndGlyphs" fill="#000">614,8 - 701,3</text>
</g>
<g id="panel-c">
<clipPath id="clip-c"><path d="M85.2 278.8 L87.0 280.8 L87.4 284.3 L87.3 288.5 L88.6 291.6 L90.9 293.5 L91.4 296.7 L92.9 300.4 L95.5 303.5 L98.0 306.6 L99.3 309.1 L97.3 311.6 L95.5 314.2 L94.2 317.9 L93.6 321.6 L93.8 325.6 L94.9 330.6 L96.7 335.6 L98.0 341.8 L98.6 346.9 L99.2 350.6 L98.6 355.6 L96.7 360.6 L95.5 364.1 L95.3 367.0 L95.8 369.6 L97.6 374.0 L98.0 377.1 L97.1 380.8 L95.5 383.9 L92.9 387.0 L90.5 390.2 L88.6 393.3 L86.7 395.2 L87.3 398.3 L86.7 402.1 L87.3 404.5 L87.9 408.3 L88.6 410.0 L89.6 411.7 L91.5 414.2 L94.4 414.5 L95.3 417.9 L95.6 422.3 L95.3 427.3 L97.1 432.3 L99.0 437.3 L100.8 441.7 L103.4 443.2 L106.5 442.1 L108.9 442.9 L110.7 446.0 L112.6 448.4 L116.4 448.4 L119.5 450.3 L122.6 452.4 L125.6 454.6 L127.9 457.7 L128.8 462.1 L129.1 465.2 L126.8 469.0 L125.0 472.1 L121.8 474.0 L118.7 475.9 L115.6 475.0 L111.9 475.9 L108.0 476.4 L105.0 477.4 L102.5 479.1 L100.7 482.8 L99.6 487.7 L96.9 491.4 L93.2 493.9 L89.4 496.4 L86.3 498.9 L82.6 502.0 L78.8 503.3 L77.6 507.6 L74.5 510.7 L71.3 513.3 L68.2 512.0 L65.9 510.3 L62.1 507.9 L57.7 505.4 L55.2 502.2 L53.3 498.5 L50.9 495.4 L47.8 493.5 L44.7 492.3 L42.1 493.5 L39.6 492.9 L39.0 489.1 L38.1 486.0 L39.6 483.5 L40.8 481.0 L44.7 480.4 L47.1 478.5 L47.8 475.4 L46.5 472.2 L43.4 470.4 L39.6 468.5 L37.2 465.7 L37.8 462.1 L38.5 458.3 L39.8 454.6 L42.2 452.0 L44.1 448.3 L44.7 445.2 L44.1 443.3 L42.2 440.2 L39.1 437.1 L36.0 434.5 L32.2 433.6 L30.4 431.4 L30.8 428.3 L31.6 423.3 L33.2 418.3 L35.5 413.2 L37.3 410.7 L36.1 409.4 L34.9 406.3 L34.2 402.6 L32.9 398.9 L30.5 395.7 L29.6 392.6 L30.5 390.1 L33.6 386.9 L34.9 383.2 L35.1 379.4 L35.5 376.3 L33.6 375.1 L31.8 372.6 L30.7 371.1 L28.3 369.3 L25.8 369.9 L22.1 371.1 L18.3 370.4 L14.6 368.6 L12.0 366.1 L11.7 363.0 L12.0 358.6 L10.8 355.5 L9.2 352.4 L10.2 348.7 L12.7 344.8 L13.7 341.1 L12.7 338.0 L9.6 336.1 L9.2 333.6 L10.8 330.0 L12.7 326.0 L13.7 322.7 L14.6 318.3 L16.4 314.6 L19.5 312.4 L23.4 312.0 L27.1 308.9 L30.2 305.2 L32.6 302.0 L37.0 300.2 L41.4 298.9 L45.1 297.1 L46.8 293.5 L48.7 290.7 L51.8 290.2 L55.5 289.2 L58.0 287.8 L59.9 289.0 L62.4 287.4 L64.3 287.0 L67.4 288.7 L69.9 290.5 L73.0 290.3 L76.1 289.2 L79.2 287.5 L81.7 284.0 L83.5 281.0Z"/></clipPath>
<g clip-path="url(#clip-c)">
<path d="M85.2 278.8 L87.0 280.8 L87.4 284.3 L87.3 288.5 L88.6 291.6 L90.9 293.5 L91.4 296.7 L92.9 300.4 L95.5 303.5 L98.0 306.6 L99.3 309.1 L97.3 311.6 L95.5 314.2 L94.2 317.9 L93.6 321.6 L93.8 325.6 L94.9 330.6 L96.7 335.6 L98.0 341.8 L98.6 346.9 L99.2 350.6 L98.6 355.6 L96.7 360.6 L95.5 364.1 L95.3 367.0 L95.8 369.6 L97.6 374.0 L98.0 377.1 L97.1 380.8 L95.5 383.9 L92.9 387.0 L90.5 390.2 L88.6 393.3 L86.7 395.2 L87.3 398.3 L86.7 402.1 L87.3 404.5 L87.9 408.3 L88.6 410.0 L89.6 411.7 L91.5 414.2 L94.4 414.5 L95.3 417.9 L95.6 422.3 L95.3 427.3 L97.1 432.3 L99.0 437.3 L100.8 441.7 L103.4 443.2 L106.5 442.1 L108.9 442.9 L110.7 446.0 L112.6 448.4 L116.4 448.4 L119.5 450.3 L122.6 452.4 L125.6 454.6 L127.9 457.7 L128.8 462.1 L129.1 465.2 L126.8 469.0 L125.0 472.1 L121.8 474.0 L118.7 475.9 L115.6 475.0 L111.9 475.9 L108.0 476.4 L105.0 477.4 L102.5 479.1 L100.7 482.8 L99.6 487.7 L96.9 491.4 L93.2 493.9 L89.4 496.4 L86.3 498.9 L82.6 502.0 L78.8 503.3 L77.6 507.6 L74.5 510.7 L71.3 513.3 L68.2 512.0 L65.9 510.3 L62.1 507.9 L57.7 505.4 L55.2 502.2 L53.3 498.5 L50.9 495.4 L47.8 493.5 L44.7 492.3 L42.1 493.5 L39.6 492.9 L39.0 489.1 L38.1 486.0 L39.6 483.5 L40.8 481.0 L44.7 480.4 L47.1 478.5 L47.8 475.4 L46.5 472.2 L43.4 470.4 L39.6 468.5 L37.2 465.7 L37.8 462.1 L38.5 458.3 L39.8 454.6 L42.2 452.0 L44.1 448.3 L44.7 445.2 L44.1 443.3 L42.2 440.2 L39.1 437.1 L36.0 434.5 L32.2 433.6 L30.4 431.4 L30.8 428.3 L31.6 423.3 L33.2 418.3 L35.5 413.2 L37.3 410.7 L36.1 409.4 L34.9 406.3 L34.2 402.6 L32.9 398.9 L30.5 395.7 L29.6 392.6 L30.5 390.1 L33.6 386.9 L34.9 383.2 L35.1 379.4 L35.5 376.3 L33.6 375.1 L31.8 372.6 L30.7 371.1 L28.3 369.3 L25.8 369.9 L22.1 371.1 L18.3 370.4 L14.6 368.6 L12.0 366.1 L11.7 363.0 L12.0 358.6 L10.8 355.5 L9.2 352.4 L10.2 348.7 L12.7 344.8 L13.7 341.1 L12.7 338.0 L9.6 336.1 L9.2 333.6 L10.8 330.0 L12.7 326.0 L13.7 322.7 L14.6 318.3 L16.4 314.6 L19.5 312.4 L23.4 312.0 L27.1 308.9 L30.2 305.2 L32.6 302.0 L37.0 300.2 L41.4 298.9 L45.1 297.1 L46.8 293.5 L48.7 290.7 L51.8 290.2 L55.5 289.2 L58.0 287.8 L59.9 289.0 L62.4 287.4 L64.3 287.0 L67.4 288.7 L69.9 290.5 L73.0 290.3 L76.1 289.2 L79.2 287.5 L81.7 284.0 L83.5 281.0Z" fill="#307EF0"/>
<path d="M0.0 380.7 L35.3 380.7 L44.6 376.8 L56.8 373.7 L69.1 373.7 L81.4 375.5 L90.6 378.6 L95.2 380.7 L110.0 381.0 L110.0 275.0 L0.0 275.0Z" fill="#00EEEE"/>
<path d="M0.0 358.0 L12.7 358.0 L22.5 353.8 L33.8 349.5 L45.0 345.3 L56.3 342.5 L70.3 341.1 L84.4 342.0 L97.0 342.5 L110.0 342.5 L110.0 275.0 L0.0 275.0Z" fill="#30DC7A"/>
<path d="M0.0 313.0 L21.1 313.0 L33.8 311.6 L50.6 311.0 L67.5 310.7 L84.4 310.7 L97.0 310.2 L110.0 310.0 L110.0 275.0 L0.0 275.0Z" fill="#20C816"/>
<ellipse cx="81.5" cy="413.8" rx="9.2" ry="9.2" fill="#0418DF"/>
<path d="M104.4 442.2 L103.3 443.2 L99.2 448.3 L94.1 453.4 L89.0 455.5 L85.0 454.8 L81.8 453.4 L75.7 449.7 L70.0 448.5 L65.5 448.3 L61.0 448.8 L57.3 449.7 L54.5 452.2 L52.8 456.5 L53.0 460.0 L54.2 463.6 L58.3 468.8 L65.5 470.8 L75.7 469.4 L85.9 466.7 L90.0 466.3 L93.1 467.3 L97.2 471.8 L102.3 474.9 L106.0 479.0 L115.0 481.0 L123.8 476.0 L140.0 476.0 L140.0 442.0Z" fill="#00EEEE"/>
<path d="M30.0 480.8 L44.9 481.1 L52.6 482.6 L60.3 486.5 L68.0 491.8 L75.6 496.4 L81.8 499.5 L90.0 501.0 L90.0 530.0 L30.0 530.0Z" fill="#0418DF"/>
<circle cx="38.6" cy="466" r="2.2" fill="#0418DF"/>
</g>
<g fill="none" stroke="#000" stroke-width="1.15" stroke-linejoin="round" stroke-linecap="round">
<path d="M35.5 376.3 L38.6 375.1 L41.1 373.2 L44.3 372.6 L48.0 373.2 L51.1 372.0 L53.5 372.6 L56.1 374.4 L59.8 376.3 L63.7 377.6 L68.6 380.2 L72.3 379.3 L75.4 382.1 L78.0 386.5 L79.8 390.9 L82.4 395.2 L84.8 393.9 L86.7 395.2"/>
<path d="M87.3 404.2 L83.5 403.0 L78.6 403.5 L73.6 403.9 L68.6 404.5 L65.2 405.4 L62.2 408.1 L59.8 411.7"/>
<path d="M37.3 410.7 L41.1 408.8 L44.8 407.6 L48.6 407.0 L52.4 406.7 L56.1 408.2 L58.6 410.1 L59.8 411.7"/>
<path d="M59.8 411.7 L59.6 415.4 L61.0 418.8 L63.0 422.2 L63.9 427.1 L63.5 430.8 L62.2 435.8 L61.6 439.5 L60.4 442.3 L56.6 441.5 L54.1 442.1 L49.7 443.3 L44.7 445.2"/>
</g>
<path d="M85.2 278.8 L87.0 280.8 L87.4 284.3 L87.3 288.5 L88.6 291.6 L90.9 293.5 L91.4 296.7 L92.9 300.4 L95.5 303.5 L98.0 306.6 L99.3 309.1 L97.3 311.6 L95.5 314.2 L94.2 317.9 L93.6 321.6 L93.8 325.6 L94.9 330.6 L96.7 335.6 L98.0 341.8 L98.6 346.9 L99.2 350.6 L98.6 355.6 L96.7 360.6 L95.5 364.1 L95.3 367.0 L95.8 369.6 L97.6 374.0 L98.0 377.1 L97.1 380.8 L95.5 383.9 L92.9 387.0 L90.5 390.2 L88.6 393.3 L86.7 395.2 L87.3 398.3 L86.7 402.1 L87.3 404.5 L87.9 408.3 L88.6 410.0 L89.6 411.7 L91.5 414.2 L94.4 414.5 L95.3 417.9 L95.6 422.3 L95.3 427.3 L97.1 432.3 L99.0 437.3 L100.8 441.7 L103.4 443.2 L106.5 442.1 L108.9 442.9 L110.7 446.0 L112.6 448.4 L116.4 448.4 L119.5 450.3 L122.6 452.4 L125.6 454.6 L127.9 457.7 L128.8 462.1 L129.1 465.2 L126.8 469.0 L125.0 472.1 L121.8 474.0 L118.7 475.9 L115.6 475.0 L111.9 475.9 L108.0 476.4 L105.0 477.4 L102.5 479.1 L100.7 482.8 L99.6 487.7 L96.9 491.4 L93.2 493.9 L89.4 496.4 L86.3 498.9 L82.6 502.0 L78.8 503.3 L77.6 507.6 L74.5 510.7 L71.3 513.3 L68.2 512.0 L65.9 510.3 L62.1 507.9 L57.7 505.4 L55.2 502.2 L53.3 498.5 L50.9 495.4 L47.8 493.5 L44.7 492.3 L42.1 493.5 L39.6 492.9 L39.0 489.1 L38.1 486.0 L39.6 483.5 L40.8 481.0 L44.7 480.4 L47.1 478.5 L47.8 475.4 L46.5 472.2 L43.4 470.4 L39.6 468.5 L37.2 465.7 L37.8 462.1 L38.5 458.3 L39.8 454.6 L42.2 452.0 L44.1 448.3 L44.7 445.2 L44.1 443.3 L42.2 440.2 L39.1 437.1 L36.0 434.5 L32.2 433.6 L30.4 431.4 L30.8 428.3 L31.6 423.3 L33.2 418.3 L35.5 413.2 L37.3 410.7 L36.1 409.4 L34.9 406.3 L34.2 402.6 L32.9 398.9 L30.5 395.7 L29.6 392.6 L30.5 390.1 L33.6 386.9 L34.9 383.2 L35.1 379.4 L35.5 376.3 L33.6 375.1 L31.8 372.6 L30.7 371.1 L28.3 369.3 L25.8 369.9 L22.1 371.1 L18.3 370.4 L14.6 368.6 L12.0 366.1 L11.7 363.0 L12.0 358.6 L10.8 355.5 L9.2 352.4 L10.2 348.7 L12.7 344.8 L13.7 341.1 L12.7 338.0 L9.6 336.1 L9.2 333.6 L10.8 330.0 L12.7 326.0 L13.7 322.7 L14.6 318.3 L16.4 314.6 L19.5 312.4 L23.4 312.0 L27.1 308.9 L30.2 305.2 L32.6 302.0 L37.0 300.2 L41.4 298.9 L45.1 297.1 L46.8 293.5 L48.7 290.7 L51.8 290.2 L55.5 289.2 L58.0 287.8 L59.9 289.0 L62.4 287.4 L64.3 287.0 L67.4 288.7 L69.9 290.5 L73.0 290.3 L76.1 289.2 L79.2 287.5 L81.7 284.0 L83.5 281.0Z" fill="none" stroke="#000" stroke-width="1.45" stroke-linejoin="round"/>
<text x="54.8" y="339.9" font-size="5.4" text-anchor="middle" class="b" stroke="#fff" stroke-width="1.2" paint-order="stroke" fill="#100008">1</text>
<text x="55.3" y="394.7" font-size="5.4" text-anchor="middle" class="b" stroke="#fff" stroke-width="1.2" paint-order="stroke" fill="#100008">2</text>
<text x="47.1" y="428.3" font-size="5.4" text-anchor="middle" class="b" stroke="#fff" stroke-width="1.2" paint-order="stroke" fill="#100008">3</text>
<text x="81.0" y="457.1" font-size="5.4" text-anchor="middle" class="b" stroke="#fff" stroke-width="1.2" paint-order="stroke" fill="#100008">4</text>
<text x="4.1" y="281.3" font-size="6.5" class="b">c)</text>
<text x="167.6" y="289.3" font-size="6.9" class="b" text-anchor="middle">N</text>
<path d="M167.6 291.5 L162.4 308.5 L167.6 303.6 Z" fill="#000"/>
<path d="M167.6 291.5 L173.0 308.5 L167.6 303.6 Z" fill="#fff" stroke="#000" stroke-width="0.5" stroke-linejoin="miter"/>
<rect x="12.0" y="526.0" width="12.8" height="1.9" fill="#000"/>
<rect x="24.8" y="526.1" width="12.8" height="1.7" fill="#fff" stroke="#333" stroke-width="0.22"/>
<rect x="37.5" y="526.0" width="25.5" height="1.9" fill="#000"/>
<text x="12.0" y="523.8" font-size="3.2" text-anchor="middle" fill="#000">0</text>
<text x="24.8" y="523.8" font-size="3.2" text-anchor="middle" fill="#000">2</text>
<text x="37.5" y="523.8" font-size="3.2" text-anchor="middle" fill="#000">4</text>
<text x="63.0" y="523.8" font-size="3.2" text-anchor="middle" fill="#000">8</text>
<text x="64.4" y="528.0" font-size="3.5" fill="#000">Km</text>
<text x="123.6" y="482.6" font-size="6.4" class="b" textLength="21.1" lengthAdjust="spacingAndGlyphs">Legend</text>
<path d="M124.92 491.80 L126.61 490.12 L125.38 488.80 L127.53 487.60 L129.84 487.72 L130.46 489.04 L131.62 490.12 L130.46 491.32 L128.00 491.92 L125.84 492.28Z" fill="#fff" stroke="#000" stroke-width="1.25" stroke-linejoin="round"/>
<text x="135.3" y="492.5" font-size="6.4" textLength="28.6" lengthAdjust="spacingAndGlyphs" fill="#000">Catchment</text>
<text x="123.6" y="500.6" font-size="6.0" class="b" textLength="62.3" lengthAdjust="spacingAndGlyphs">Autumn Rainfall (mm)</text>
<rect x="123.6" y="503.9" width="9.5" height="4.5" fill="#20C816"/>
<text x="135.3" y="508.0" font-size="5.7" textLength="31.4" lengthAdjust="spacingAndGlyphs" fill="#000">262,9 - 314,4</text>
<rect x="123.6" y="511.7" width="9.5" height="4.5" fill="#30DC7A"/>
<text x="135.3" y="515.9" font-size="5.7" textLength="31.4" lengthAdjust="spacingAndGlyphs" fill="#000">314,5 - 365,8</text>
<rect x="123.6" y="519.6" width="9.5" height="4.5" fill="#00EEEE"/>
<text x="135.3" y="523.8" font-size="5.7" textLength="31.4" lengthAdjust="spacingAndGlyphs" fill="#000">365,9 - 417,3</text>
<rect x="123.6" y="527.4" width="9.5" height="4.5" fill="#307EF0"/>
<text x="135.3" y="531.5" font-size="5.7" textLength="31.4" lengthAdjust="spacingAndGlyphs" fill="#000">417,4 - 468,8</text>
<rect x="123.6" y="535.2" width="9.5" height="4.5" fill="#0418DF"/>
<text x="135.3" y="539.4" font-size="5.7" textLength="31.4" lengthAdjust="spacingAndGlyphs" fill="#000">468,9 - 520,2</text>
</g>
<g id="panel-d">
<clipPath id="clip-d"><path d="M284.5 276.7 L286.3 278.8 L286.8 282.3 L286.7 286.6 L288.0 289.8 L290.3 291.8 L290.8 295.0 L292.4 298.8 L295.0 302.0 L297.6 305.2 L298.9 307.7 L296.9 310.3 L295.0 312.9 L293.7 316.7 L293.1 320.5 L293.3 324.6 L294.4 329.7 L296.3 334.8 L297.6 341.2 L298.2 346.4 L298.8 350.2 L298.2 355.3 L296.3 360.4 L295.0 364.0 L294.8 367.0 L295.4 369.6 L297.2 374.1 L297.6 377.3 L296.7 381.1 L295.0 384.3 L292.4 387.5 L289.9 390.7 L288.0 393.9 L286.0 395.8 L286.7 399.0 L286.0 402.9 L286.7 405.4 L287.3 409.3 L288.0 411.0 L289.0 412.7 L290.9 415.3 L293.9 415.6 L294.8 419.1 L295.1 423.6 L294.8 428.7 L296.7 433.8 L298.6 438.9 L300.5 443.4 L303.1 445.0 L306.3 443.8 L308.8 444.7 L310.6 447.8 L312.5 450.3 L316.4 450.3 L319.6 452.2 L322.8 454.4 L325.9 456.6 L328.2 459.8 L329.1 464.3 L329.4 467.5 L327.1 471.4 L325.2 474.6 L322.0 476.5 L318.8 478.4 L315.6 477.5 L311.8 478.4 L307.8 479.0 L304.8 480.0 L302.2 481.7 L300.4 485.5 L299.2 490.5 L296.5 494.3 L292.7 496.9 L288.8 499.4 L285.6 502.0 L281.8 505.2 L278.0 506.5 L276.7 510.9 L273.5 514.1 L270.3 516.7 L267.1 515.4 L264.7 513.7 L260.9 511.2 L256.4 508.6 L253.8 505.4 L251.9 501.6 L249.4 498.4 L246.2 496.5 L243.0 495.2 L240.4 496.5 L237.8 495.8 L237.2 492.0 L236.3 488.8 L237.8 486.2 L239.1 483.7 L243.0 483.0 L245.5 481.1 L246.2 477.9 L244.9 474.7 L241.7 472.8 L237.8 470.9 L235.4 468.0 L236.0 464.3 L236.7 460.4 L238.0 456.6 L240.5 454.0 L242.4 450.2 L243.1 447.0 L242.4 445.1 L240.5 441.9 L237.3 438.7 L234.1 436.1 L230.3 435.1 L228.4 432.9 L228.8 429.7 L229.6 424.6 L231.3 419.5 L233.6 414.3 L235.5 411.7 L234.2 410.4 L233.0 407.2 L232.3 403.4 L231.0 399.6 L228.5 396.4 L227.6 393.2 L228.5 390.6 L231.7 387.4 L233.0 383.6 L233.2 379.7 L233.6 376.5 L231.7 375.3 L229.8 372.7 L228.7 371.2 L226.3 369.3 L223.7 369.9 L219.9 371.2 L216.0 370.5 L212.2 368.6 L209.6 366.1 L209.3 362.9 L209.6 358.4 L208.4 355.2 L206.7 352.0 L207.7 348.2 L210.3 344.3 L211.3 340.5 L210.3 337.3 L207.1 335.4 L206.7 332.8 L208.4 329.1 L210.3 325.0 L211.3 321.6 L212.2 317.1 L214.1 313.3 L217.3 311.1 L221.2 310.7 L225.0 307.5 L228.2 303.7 L230.7 300.5 L235.2 298.6 L239.7 297.3 L243.5 295.4 L245.2 291.7 L247.1 288.9 L250.3 288.4 L254.1 287.4 L256.7 285.9 L258.6 287.1 L261.2 285.5 L263.1 285.1 L266.3 286.8 L268.8 288.7 L272.0 288.5 L275.2 287.4 L278.4 285.6 L280.9 282.0 L282.8 279.0Z"/></clipPath>
<g clip-path="url(#clip-d)">
<path d="M284.5 276.7 L286.3 278.8 L286.8 282.3 L286.7 286.6 L288.0 289.8 L290.3 291.8 L290.8 295.0 L292.4 298.8 L295.0 302.0 L297.6 305.2 L298.9 307.7 L296.9 310.3 L295.0 312.9 L293.7 316.7 L293.1 320.5 L293.3 324.6 L294.4 329.7 L296.3 334.8 L297.6 341.2 L298.2 346.4 L298.8 350.2 L298.2 355.3 L296.3 360.4 L295.0 364.0 L294.8 367.0 L295.4 369.6 L297.2 374.1 L297.6 377.3 L296.7 381.1 L295.0 384.3 L292.4 387.5 L289.9 390.7 L288.0 393.9 L286.0 395.8 L286.7 399.0 L286.0 402.9 L286.7 405.4 L287.3 409.3 L288.0 411.0 L289.0 412.7 L290.9 415.3 L293.9 415.6 L294.8 419.1 L295.1 423.6 L294.8 428.7 L296.7 433.8 L298.6 438.9 L300.5 443.4 L303.1 445.0 L306.3 443.8 L308.8 444.7 L310.6 447.8 L312.5 450.3 L316.4 450.3 L319.6 452.2 L322.8 454.4 L325.9 456.6 L328.2 459.8 L329.1 464.3 L329.4 467.5 L327.1 471.4 L325.2 474.6 L322.0 476.5 L318.8 478.4 L315.6 477.5 L311.8 478.4 L307.8 479.0 L304.8 480.0 L302.2 481.7 L300.4 485.5 L299.2 490.5 L296.5 494.3 L292.7 496.9 L288.8 499.4 L285.6 502.0 L281.8 505.2 L278.0 506.5 L276.7 510.9 L273.5 514.1 L270.3 516.7 L267.1 515.4 L264.7 513.7 L260.9 511.2 L256.4 508.6 L253.8 505.4 L251.9 501.6 L249.4 498.4 L246.2 496.5 L243.0 495.2 L240.4 496.5 L237.8 495.8 L237.2 492.0 L236.3 488.8 L237.8 486.2 L239.1 483.7 L243.0 483.0 L245.5 481.1 L246.2 477.9 L244.9 474.7 L241.7 472.8 L237.8 470.9 L235.4 468.0 L236.0 464.3 L236.7 460.4 L238.0 456.6 L240.5 454.0 L242.4 450.2 L243.1 447.0 L242.4 445.1 L240.5 441.9 L237.3 438.7 L234.1 436.1 L230.3 435.1 L228.4 432.9 L228.8 429.7 L229.6 424.6 L231.3 419.5 L233.6 414.3 L235.5 411.7 L234.2 410.4 L233.0 407.2 L232.3 403.4 L231.0 399.6 L228.5 396.4 L227.6 393.2 L228.5 390.6 L231.7 387.4 L233.0 383.6 L233.2 379.7 L233.6 376.5 L231.7 375.3 L229.8 372.7 L228.7 371.2 L226.3 369.3 L223.7 369.9 L219.9 371.2 L216.0 370.5 L212.2 368.6 L209.6 366.1 L209.3 362.9 L209.6 358.4 L208.4 355.2 L206.7 352.0 L207.7 348.2 L210.3 344.3 L211.3 340.5 L210.3 337.3 L207.1 335.4 L206.7 332.8 L208.4 329.1 L210.3 325.0 L211.3 321.6 L212.2 317.1 L214.1 313.3 L217.3 311.1 L221.2 310.7 L225.0 307.5 L228.2 303.7 L230.7 300.5 L235.2 298.6 L239.7 297.3 L243.5 295.4 L245.2 291.7 L247.1 288.9 L250.3 288.4 L254.1 287.4 L256.7 285.9 L258.6 287.1 L261.2 285.5 L263.1 285.1 L266.3 286.8 L268.8 288.7 L272.0 288.5 L275.2 287.4 L278.4 285.6 L280.9 282.0 L282.8 279.0Z" fill="#00EEEE"/>
<path d="M196.0 355.2 L210.1 355.2 L221.3 356.6 L232.6 360.8 L246.0 365.0 L257.0 370.2 L268.0 373.8 L280.0 375.8 L295.0 375.0 L310.0 374.0 L310.0 275.0 L196.0 275.0Z" fill="#30DC7A"/>
<path d="M196.0 313.5 L214.0 314.0 L225.6 317.9 L238.4 324.3 L245.0 329.8 L251.2 335.8 L261.4 344.8 L267.6 352.0 L276.7 346.0 L287.0 339.6 L295.9 334.0 L310.0 330.0 L310.0 275.0 L196.0 275.0Z" fill="#20C816"/>
<path d="M220.0 386.5 L232.1 386.5 L239.8 382.8 L249.0 381.9 L258.2 385.0 L267.4 389.6 L276.6 394.2 L284.3 395.7 L300.0 396.0 L300.0 418.7 L293.5 419.5 L290.5 424.1 L284.3 427.2 L274.1 428.6 L265.9 427.2 L262.9 426.8 L257.7 429.2 L251.6 433.3 L247.5 438.4 L244.4 444.6 L243.0 454.6 L244.2 465.3 L248.2 474.5 L255.9 482.2 L265.1 486.8 L275.8 489.9 L286.6 492.9 L294.3 494.5 L305.0 495.0 L305.0 530.0 L220.0 530.0Z" fill="#307EF0"/>
<path d="M225.0 485.2 L239.0 485.2 L246.7 486.8 L254.4 492.9 L263.6 499.1 L272.8 503.7 L280.5 504.6 L290.0 505.0 L290.0 530.0 L225.0 530.0Z" fill="#0418DF"/>
<path d="M252.4 460 C252.4 452 259 446.5 268 446.5 C273 446.5 277 447.6 281 450.5 L288 456.6 C290.6 459 290.6 462 288 464.4 L280 470.6 C276 473.2 271 474 266 474 C258 474 252.4 468 252.4 460Z" fill="#30DC7A"/>
<path d="M315.8 451.5 L311.8 457.6 L312.7 466.8 L318.8 474.5 L325.0 476.0 L340.0 476.0 L340.0 451.0Z" fill="#30DC7A"/>
</g>
<g fill="none" stroke="#000" stroke-width="1.15" stroke-linejoin="round" stroke-linecap="round">
<path d="M233.6 376.5 L236.8 375.3 L239.4 373.3 L242.6 372.7 L246.4 373.3 L249.6 372.1 L252.1 372.7 L254.7 374.6 L258.5 376.5 L262.5 377.8 L267.5 380.5 L271.3 379.6 L274.5 382.4 L277.1 386.9 L279.0 391.4 L281.6 395.8 L284.1 394.5 L286.0 395.8"/>
<path d="M286.7 405.1 L282.8 403.8 L277.7 404.3 L272.6 404.8 L267.5 405.4 L264.0 406.3 L261.0 409.0 L258.5 412.7"/>
<path d="M235.5 411.7 L239.4 409.8 L243.2 408.5 L247.0 407.9 L250.9 407.6 L254.7 409.1 L257.3 411.1 L258.5 412.7"/>
<path d="M258.5 412.7 L258.3 416.5 L259.7 420.0 L261.8 423.5 L262.7 428.5 L262.3 432.3 L261.0 437.4 L260.3 441.2 L259.1 444.1 L255.2 443.2 L252.7 443.8 L248.2 445.1 L243.1 447.0"/>
</g>
<path d="M284.5 276.7 L286.3 278.8 L286.8 282.3 L286.7 286.6 L288.0 289.8 L290.3 291.8 L290.8 295.0 L292.4 298.8 L295.0 302.0 L297.6 305.2 L298.9 307.7 L296.9 310.3 L295.0 312.9 L293.7 316.7 L293.1 320.5 L293.3 324.6 L294.4 329.7 L296.3 334.8 L297.6 341.2 L298.2 346.4 L298.8 350.2 L298.2 355.3 L296.3 360.4 L295.0 364.0 L294.8 367.0 L295.4 369.6 L297.2 374.1 L297.6 377.3 L296.7 381.1 L295.0 384.3 L292.4 387.5 L289.9 390.7 L288.0 393.9 L286.0 395.8 L286.7 399.0 L286.0 402.9 L286.7 405.4 L287.3 409.3 L288.0 411.0 L289.0 412.7 L290.9 415.3 L293.9 415.6 L294.8 419.1 L295.1 423.6 L294.8 428.7 L296.7 433.8 L298.6 438.9 L300.5 443.4 L303.1 445.0 L306.3 443.8 L308.8 444.7 L310.6 447.8 L312.5 450.3 L316.4 450.3 L319.6 452.2 L322.8 454.4 L325.9 456.6 L328.2 459.8 L329.1 464.3 L329.4 467.5 L327.1 471.4 L325.2 474.6 L322.0 476.5 L318.8 478.4 L315.6 477.5 L311.8 478.4 L307.8 479.0 L304.8 480.0 L302.2 481.7 L300.4 485.5 L299.2 490.5 L296.5 494.3 L292.7 496.9 L288.8 499.4 L285.6 502.0 L281.8 505.2 L278.0 506.5 L276.7 510.9 L273.5 514.1 L270.3 516.7 L267.1 515.4 L264.7 513.7 L260.9 511.2 L256.4 508.6 L253.8 505.4 L251.9 501.6 L249.4 498.4 L246.2 496.5 L243.0 495.2 L240.4 496.5 L237.8 495.8 L237.2 492.0 L236.3 488.8 L237.8 486.2 L239.1 483.7 L243.0 483.0 L245.5 481.1 L246.2 477.9 L244.9 474.7 L241.7 472.8 L237.8 470.9 L235.4 468.0 L236.0 464.3 L236.7 460.4 L238.0 456.6 L240.5 454.0 L242.4 450.2 L243.1 447.0 L242.4 445.1 L240.5 441.9 L237.3 438.7 L234.1 436.1 L230.3 435.1 L228.4 432.9 L228.8 429.7 L229.6 424.6 L231.3 419.5 L233.6 414.3 L235.5 411.7 L234.2 410.4 L233.0 407.2 L232.3 403.4 L231.0 399.6 L228.5 396.4 L227.6 393.2 L228.5 390.6 L231.7 387.4 L233.0 383.6 L233.2 379.7 L233.6 376.5 L231.7 375.3 L229.8 372.7 L228.7 371.2 L226.3 369.3 L223.7 369.9 L219.9 371.2 L216.0 370.5 L212.2 368.6 L209.6 366.1 L209.3 362.9 L209.6 358.4 L208.4 355.2 L206.7 352.0 L207.7 348.2 L210.3 344.3 L211.3 340.5 L210.3 337.3 L207.1 335.4 L206.7 332.8 L208.4 329.1 L210.3 325.0 L211.3 321.6 L212.2 317.1 L214.1 313.3 L217.3 311.1 L221.2 310.7 L225.0 307.5 L228.2 303.7 L230.7 300.5 L235.2 298.6 L239.7 297.3 L243.5 295.4 L245.2 291.7 L247.1 288.9 L250.3 288.4 L254.1 287.4 L256.7 285.9 L258.6 287.1 L261.2 285.5 L263.1 285.1 L266.3 286.8 L268.8 288.7 L272.0 288.5 L275.2 287.4 L278.4 285.6 L280.9 282.0 L282.8 279.0Z" fill="none" stroke="#000" stroke-width="1.45" stroke-linejoin="round"/>
<text x="253.4" y="339.2" font-size="5.4" text-anchor="middle" class="b" stroke="#fff" stroke-width="1.2" paint-order="stroke" fill="#100008">1</text>
<text x="253.9" y="395.3" font-size="5.4" text-anchor="middle" class="b" stroke="#fff" stroke-width="1.2" paint-order="stroke" fill="#100008">2</text>
<text x="245.5" y="429.7" font-size="5.4" text-anchor="middle" class="b" stroke="#fff" stroke-width="1.2" paint-order="stroke" fill="#100008">3</text>
<text x="280.2" y="459.2" font-size="5.4" text-anchor="middle" class="b" stroke="#fff" stroke-width="1.2" paint-order="stroke" fill="#100008">4</text>
<text x="201.5" y="279.7" font-size="6.5" class="b">d)</text>
<text x="368.8" y="287.6" font-size="6.9" class="b" text-anchor="middle">N</text>
<path d="M368.8 289.7 L363.2 307.0 L368.8 301.8 Z" fill="#000"/>
<path d="M368.8 289.7 L374.1 307.0 L368.8 301.8 Z" fill="#fff" stroke="#000" stroke-width="0.5" stroke-linejoin="miter"/>
<rect x="210.0" y="528.8" width="13.0" height="1.9" fill="#000"/>
<rect x="223.0" y="528.9" width="13.0" height="1.7" fill="#fff" stroke="#333" stroke-width="0.22"/>
<rect x="236.0" y="528.8" width="26.0" height="1.9" fill="#000"/>
<text x="210.0" y="526.6" font-size="3.2" text-anchor="middle" fill="#000">0</text>
<text x="223.0" y="526.6" font-size="3.2" text-anchor="middle" fill="#000">2</text>
<text x="236.0" y="526.6" font-size="3.2" text-anchor="middle" fill="#000">4</text>
<text x="262.0" y="526.6" font-size="3.2" text-anchor="middle" fill="#000">8</text>
<text x="263.4" y="530.8" font-size="3.5" fill="#000">Km</text>
<text x="324.4" y="484.8" font-size="6.4" class="b" textLength="21.3" lengthAdjust="spacingAndGlyphs">Legend</text>
<path d="M325.42 494.16 L327.11 492.56 L325.88 491.31 L328.03 490.17 L330.34 490.28 L330.96 491.54 L332.12 492.56 L330.96 493.70 L328.50 494.27 L326.34 494.62Z" fill="#fff" stroke="#000" stroke-width="1.25" stroke-linejoin="round"/>
<text x="335.8" y="494.7" font-size="6.4" textLength="29.0" lengthAdjust="spacingAndGlyphs" fill="#000">Catchment</text>
<text x="324.4" y="502.8" font-size="6.0" class="b" textLength="59.8" lengthAdjust="spacingAndGlyphs">Spring Rainfall (mm)</text>
<rect x="324.4" y="507.1" width="9.2" height="4.5" fill="#20C816"/>
<text x="335.8" y="511.2" font-size="5.7" textLength="32.5" lengthAdjust="spacingAndGlyphs" fill="#000">220,8 - 257,9</text>
<rect x="324.4" y="515.0" width="9.2" height="4.5" fill="#30DC7A"/>
<text x="335.8" y="519.1" font-size="5.7" textLength="27.9" lengthAdjust="spacingAndGlyphs" fill="#000">258 - 295,1</text>
<rect x="324.4" y="522.9" width="9.2" height="4.5" fill="#00EEEE"/>
<text x="335.8" y="527.0" font-size="5.7" textLength="32.5" lengthAdjust="spacingAndGlyphs" fill="#000">295,2 - 332,3</text>
<rect x="324.4" y="530.8" width="9.2" height="4.5" fill="#307EF0"/>
<text x="335.8" y="534.9" font-size="5.7" textLength="32.5" lengthAdjust="spacingAndGlyphs" fill="#000">332,4 - 369,5</text>
<rect x="324.4" y="538.6" width="9.2" height="4.5" fill="#0418DF"/>
<text x="335.8" y="542.8" font-size="5.7" textLength="32.5" lengthAdjust="spacingAndGlyphs" fill="#000">369,6 - 406,6</text>
</g>
</svg></body></html>
